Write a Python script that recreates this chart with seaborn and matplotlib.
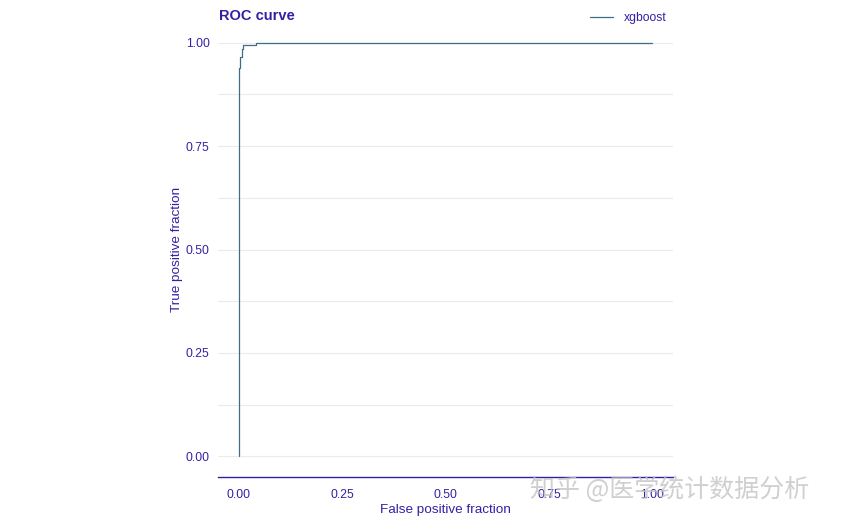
import matplotlib
matplotlib.use("Agg")
import matplotlib.pyplot as plt
import seaborn as sns
import pandas as pd
import numpy as np

# ROC curve points
fpr = [0.0, 0.0, 0.004, 0.004, 0.007, 0.007, 0.010, 0.010, 0.043, 0.043, 1.0]
tpr = [0.0, 0.94, 0.94, 0.965, 0.965, 0.985, 0.985, 0.995, 0.995, 1.0, 1.0]
model_label = "xgboost"
tick_vals = [0.0, 0.25, 0.5, 0.75, 1.0]
tick_labels = ["0.00", "0.25", "0.50", "0.75", "1.00"]

df = pd.DataFrame({"fpr": fpr, "tpr": tpr, "label": model_label})

sns.set_theme(style="white")
plt.rcParams["font.family"] = ["Liberation Sans", "DejaVu Sans"]

TXT = "#371ea3"
LINE = "#3d6e85"
GRID = "#ebebeb"

fig = plt.figure(figsize=(8.43, 5.24), dpi=100)
ax = fig.add_axes([218/843, 1-477/524, (673-218)/843, (477-22)/524])

sns.lineplot(data=df, x="fpr", y="tpr", hue="label", palette=[LINE],
             sort=False, estimator=None, linewidth=0.9, ax=ax)

ax.set_xlim(-0.05, 1.05)
ax.set_ylim(-0.05, 1.05)
ax.set_xticks(tick_vals)
ax.set_xticklabels(tick_labels)
ax.set_yticks(tick_vals)
ax.set_yticklabels(tick_labels)
ax.set_yticks([0.125, 0.375, 0.625, 0.875], minor=True)
ax.grid(False)
ax.grid(axis="y", which="both", color=GRID, linewidth=0.8)
ax.set_axisbelow(True)
for s in ["top", "right", "left"]:
    ax.spines[s].set_visible(False)
ax.spines["bottom"].set_color(TXT)
ax.spines["bottom"].set_linewidth(1.0)
ax.tick_params(axis="both", which="both", length=0, colors=TXT, labelsize=8.7)
ax.tick_params(axis="x", pad=9)
ax.tick_params(axis="y", pad=6)

ax.set_xlabel("False positive fraction", color=TXT, fontsize=9.7, labelpad=2)
ax.set_ylabel("True positive fraction", color=TXT, fontsize=9.7, labelpad=2)

fig.text(219/843, 1-16/524, "ROC curve", color=TXT, fontsize=10.5,
         fontweight="bold", ha="left", va="center")

handles, labels = ax.get_legend_handles_labels()
ax.get_legend().remove()
leg = fig.legend(handles, labels, loc="center right",
                 bbox_to_anchor=(667/843, 1-18.5/524),
                 frameon=False, fontsize=8.7, handlelength=1.9, handletextpad=0.9,
                 borderaxespad=0, borderpad=0)
for t in leg.get_texts():
    t.set_color(TXT)

# watermark
fig.text(530/843, 1-490/524, "知乎 @医学统计数据分析", color="#c4c4c4", alpha=0.8,
         fontsize=18, ha="left", va="center",
         family=["Noto Sans CJK SC", "DejaVu Sans"])

fig.savefig("out.png", dpi=100, facecolor="white")
